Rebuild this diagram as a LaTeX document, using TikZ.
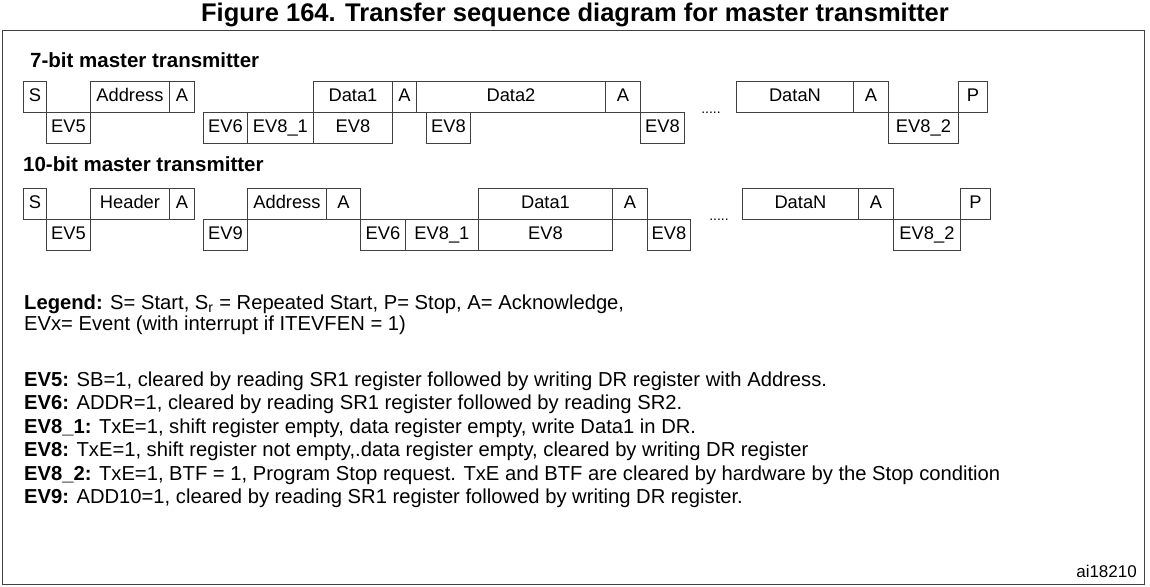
\documentclass[tikz,border=0pt]{standalone}
\usepackage{fontspec}
\setmainfont{Liberation Sans}
\begin{document}
\begin{tikzpicture}[x=1pt,y=-1pt,
  box/.style={draw=black!75,line width=0.9pt,inner sep=0pt,minimum height=31pt,anchor=north west,text height=13pt,text depth=3.5pt,font=\fontsize{18.3}{21}\selectfont},
  txt/.style={anchor=west,inner sep=0pt,font=\fontsize{20.2}{23}\selectfont},
  head/.style={anchor=west,inner sep=0pt,font=\fontsize{20.5}{24}\selectfont\bfseries}]
\newcommand\bx[5]{\pgfmathsetmacro\bw{#3-#2}\node[box,minimum width=\bw pt] (#1) at (#2,#4) {#5};}
\useasboundingbox (0,0) rectangle (1150,586);
\node[inner sep=0pt,font=\fontsize{25.5}{28}\selectfont\bfseries] (title) at (575,15) {Figure 164. Transfer sequence diagram for master transmitter};
\draw[black!75,line width=0.9pt] (2,30) rectangle (1144,584);
\node[head] (h7) at (30,60) {7-bit master transmitter};
% row 1
\bx{a1}{23}{46}{81}{S}
\bx{a2}{90}{169}{81}{Address}
\bx{a3}{169}{194}{81}{A}
\bx{a4}{313}{392}{81}{Data1}
\bx{a5}{392}{416}{81}{A}
\bx{a6}{416}{605}{81}{Data2}
\bx{a7}{605}{640}{81}{A}
\bx{a8}{736}{853}{81}{DataN}
\bx{a9}{853}{888}{81}{A}
\bx{a10}{958}{987}{81}{P}
\bx{b1}{46}{90}{112}{EV5}
\bx{b2}{203}{247}{112}{EV6}
\bx{b3}{247}{313}{112}{EV8\_1}
\bx{b4}{313}{392}{112}{EV8}
\bx{b5}{426}{470}{112}{EV8}
\bx{b6}{640}{684}{112}{EV8}
\bx{b7}{888}{958}{112}{EV8\_2}
\node[inner sep=0pt,font=\fontsize{14}{14}\selectfont] (d1) at (711,113) {.....};
\node[head] (h10) at (23,164) {10-bit master transmitter};
% row 2
\bx{c1}{23}{46}{188}{S}
\bx{c2}{90}{169}{188}{Header}
\bx{c3}{169}{194}{188}{A}
\bx{c4}{247}{326}{188}{Address}
\bx{c5}{326}{360}{188}{A}
\bx{c6}{478}{612}{188}{Data1}
\bx{c7}{612}{647}{188}{A}
\bx{c8}{742}{858}{188}{DataN}
\bx{c9}{858}{893}{188}{A}
\bx{c10}{960}{990}{188}{P}
\bx{e1}{46}{90}{219}{EV5}
\bx{e2}{203}{247}{219}{EV9}
\bx{e3}{360}{405}{219}{EV6}
\bx{e4}{405}{478}{219}{EV8\_1}
\bx{e5}{478}{612}{219}{EV8}
\bx{e6}{647}{690}{219}{EV8}
\bx{e7}{893}{960}{219}{EV8\_2}
\node[inner sep=0pt,font=\fontsize{14}{14}\selectfont] (d2) at (719,220) {.....};
% legend
\node[txt] (l1) at (24,304) {\textbf{Legend:} S= Start, S\textsubscript{r} = Repeated Start, P= Stop, A= Acknowledge,};
\node[txt] (l2) at (24,325) {EVx= Event (with interrupt if ITEVFEN = 1)};
\node[txt] (t1) at (24,381) {\textbf{EV5:} SB=1, cleared by reading SR1 register followed by writing DR register with Address.};
\node[txt] (t2) at (24,404) {\textbf{EV6:} ADDR=1, cleared by reading SR1 register followed by reading SR2.};
\node[txt] (t3) at (24,428) {\textbf{EV8\_1:} TxE=1, shift register empty, data register empty, write Data1 in DR.};
\node[txt] (t4) at (24,451) {\textbf{EV8:} TxE=1, shift register not empty,.data register empty, cleared by writing DR register};
\node[txt] (t5) at (24,475) {\textbf{EV8\_2:} TxE=1, BTF = 1, Program Stop request. TxE and BTF are cleared by hardware by the Stop condition};
\node[txt] (t6) at (24,498) {\textbf{EV9:} ADD10=1, cleared by reading SR1 register followed by writing DR register.};
\node[inner sep=0pt,anchor=east,font=\fontsize{17}{19}\selectfont] (id) at (1137,571) {ai18210};
\end{tikzpicture}
\end{document}
